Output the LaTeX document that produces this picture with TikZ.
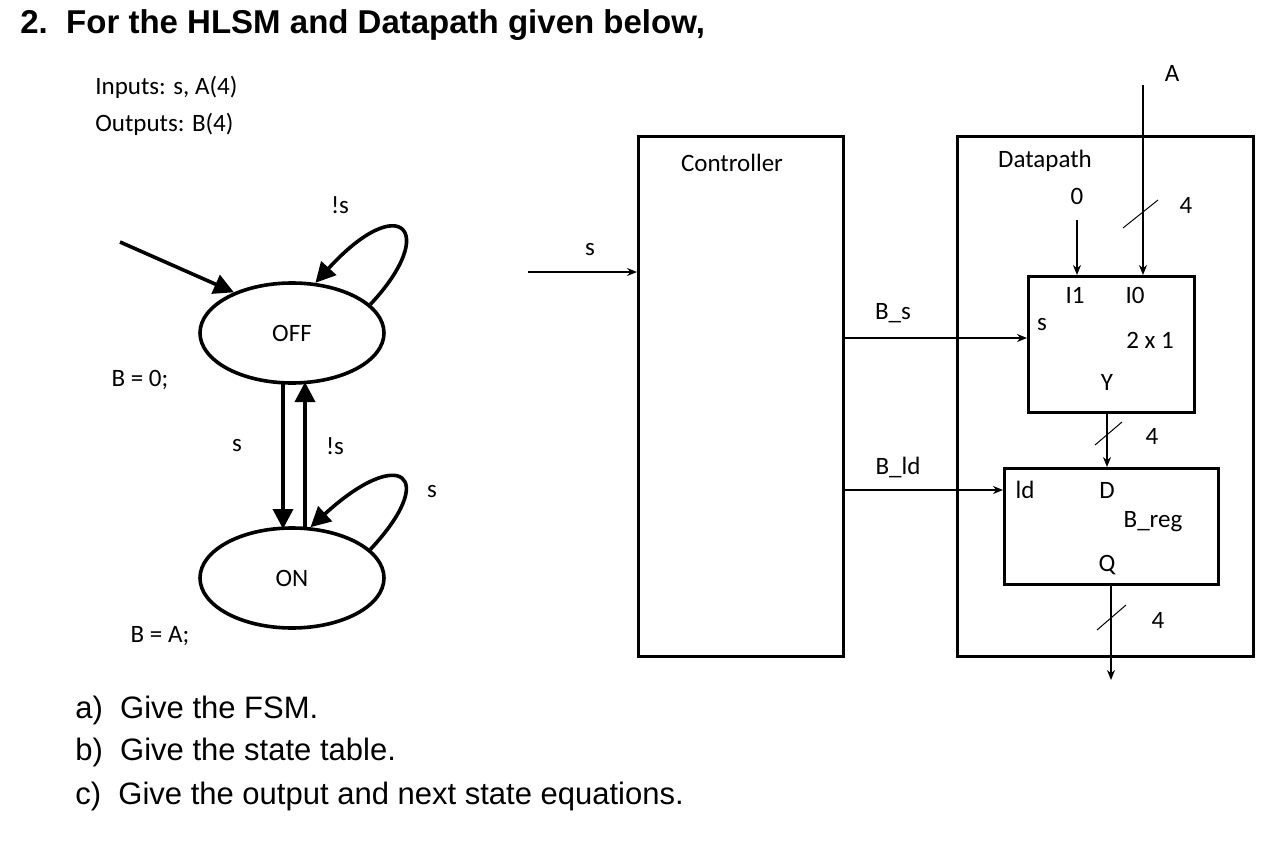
\documentclass[tikz,border=0pt]{standalone}
\usepackage{fontspec}
\setmainfont{Carlito}
\newfontfamily\arial{Liberation Sans}
\usetikzlibrary{arrows.meta,shapes.geometric}
\begin{document}
\begin{tikzpicture}[x=0.5pt,y=-0.5pt,
  lbl/.style={font=\fontsize{12.5}{14}\selectfont,inner sep=0},
  st/.style={draw,line width=1.8pt,ellipse,minimum width=92pt,minimum height=50pt,font=\fontsize{12.5}{14}\selectfont},
  thk/.style={line width=1.8pt,-{Triangle[length=10pt,width=10pt]}},
  thn/.style={line width=0.7pt,-{Stealth[length=5pt,width=4pt]}},
  box/.style={draw,line width=1.6pt},
  sl/.style={line width=0.5pt}]
\useasboundingbox (0,0) rectangle (1276,862);
\node[anchor=west,inner sep=0,font=\arial\bfseries\fontsize{16.5}{19}\selectfont] (title) at (20,25) {2.\ \ For the HLSM and Datapath given below,};
\node[lbl,anchor=west] (in) at (95,87) {Inputs: s, A(4)};
\node[lbl,anchor=west] (out) at (95,124) {Outputs: B(4)};
\node[st] (off) at (292,333) {OFF};
\node[st] (on) at (292,578) {ON};
\coordinate (init) at (120,242);
\draw[thk] (init) -- (off.145);
\draw[thk] (off.20) .. controls (440,230) and (400,190) .. (off.65);
\node[lbl] (ns1) at (340,205) {!s};
\draw[thk] (283,382) -- (283,529);
\draw[thk] (305,529) -- (305,382);
\node[lbl] (s1) at (237,446) {s};
\node[lbl] (ns2) at (335,446) {!s};
\draw[thk] (on.20) .. controls (440,475) and (400,445) .. (on.70);
\node[lbl] (s2) at (432,492) {s};
\node[lbl] (b0) at (140,380) {B = 0;};
\node[lbl] (ba) at (160,636) {B = A;};
\node[box,minimum width=102.5pt,minimum height=260pt,anchor=north west] (ctl) at (637,135) {};
\node[lbl] at (732,163) {Controller};
\coordinate (sin) at (528,272);
\draw[thn] (sin) -- (637,272);
\node[lbl] at (590,250) {s};
\node[box,minimum width=148pt,minimum height=260pt,anchor=north west] (dp) at (956,135) {};
\node[lbl] at (1045,161) {Datapath};
\node[box,minimum width=83pt,minimum height=68pt,anchor=north west] (mux) at (1027,275) {};
\node[lbl] at (1075,295) {I1};
\node[lbl] at (1135,295) {I0};
\node[lbl] at (1150,340) {2 x 1};
\node[lbl] at (1107,382) {Y};
\node[lbl] at (1042,325) {s};
\node[lbl] (zero) at (1077,196) {0};
\draw[thn] (1077,220) -- (1077,275);
\node[lbl] (a) at (1172,73) {A};
\coordinate (atop) at (1143,85);
\draw[thn] (atop) -- (1143,275);
\draw[sl] (1123,228) -- (1158,200);
\node[lbl] at (1186,205) {4};
\draw[thn] (842,338) -- (1027,338);
\node[lbl] at (893,313) {B\_s};
\draw[thn] (842,490) -- (1003,490);
\node[lbl] at (898,467) {B\_ld};
\node[box,minimum width=107pt,minimum height=58pt,anchor=north west] (reg) at (1003,467) {};
\draw[thn] (1107,411) -- (1107,467);
\draw[sl] (1095,445) -- (1122,422);
\node[lbl] at (1152,436) {4};
\node[lbl] at (1025,490) {ld};
\node[lbl] at (1107,490) {D};
\node[lbl] at (1153,522) {B\_reg};
\node[lbl] at (1107,565) {Q};
\coordinate (bout) at (1111,680);
\draw[thn] (1111,583) -- (bout);
\draw[sl] (1097,630) -- (1126,605);
\node[lbl] at (1158,620) {4};
\node[anchor=west,inner sep=0,font=\arial\fontsize{15.5}{18}\selectfont] at (75,710) {a)\ \ Give the FSM.};
\node[anchor=west,inner sep=0,font=\arial\fontsize{15.5}{18}\selectfont] at (75,752) {b)\ \ Give the state table.};
\node[anchor=west,inner sep=0,font=\arial\fontsize{15.5}{18}\selectfont] at (75,796) {c)\ \ Give the output and next state equations.};
\end{tikzpicture}
\end{document}
